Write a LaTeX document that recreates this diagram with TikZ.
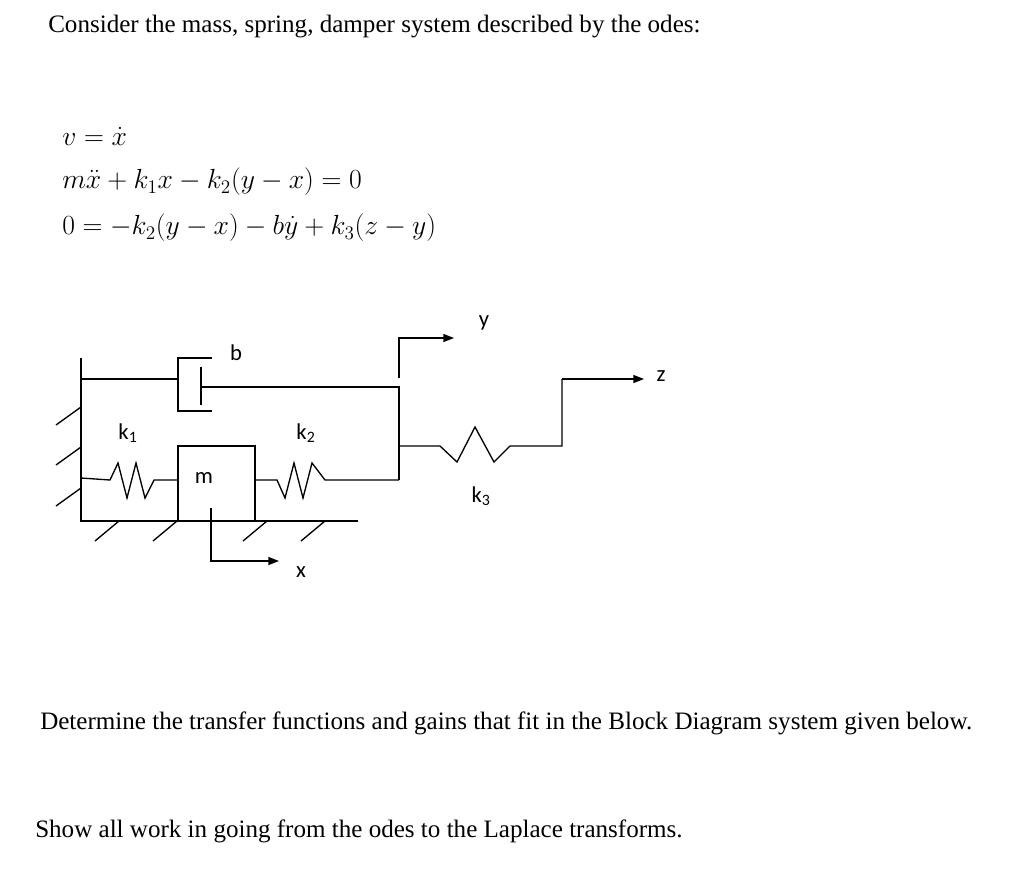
\documentclass[tikz,border=0pt]{standalone}
\usepackage{fontspec}
\setmainfont{Liberation Serif}
\newfontfamily\lbl{Carlito}
\usetikzlibrary{arrows.meta}
\begin{document}
\begin{tikzpicture}[x=0.75pt,y=-0.75pt,
  ln/.style={line width=1pt},
  arr/.style={line width=1pt,-{Triangle[length=8pt,width=6pt]}},
  txt/.style={anchor=west,inner sep=0pt,font=\fontsize{18.8}{22}\selectfont},
  eq/.style={anchor=west,inner sep=0pt,font=\fontsize{19.5}{23}\selectfont},
  lab/.style={inner sep=0pt,font=\lbl\fontsize{17}{20}\selectfont}]
\useasboundingbox (0,0) rectangle (1024,879);
\node[txt] (t1) at (48,27) {Consider the mass, spring, damper system described by the odes:};
\node[eq] (e1) at (62,136) {$v=\dot x$};
\node[eq] (e2) at (62,182) {$m\ddot x+k_1x-k_2(y-x)=0$};
\node[eq] (e3) at (62,228) {$0=-k_2(y-x)-b\dot y+k_3(z-y)$};
\node[txt] (t2) at (40,723) {Determine the transfer functions and gains that fit in the Block Diagram system given below.};
\node[txt] (t3) at (35,831) {Show all work in going from the odes to the Laplace transforms.};
% wall and ground
\draw[ln] (81,358) -- (81,521) -- (358,521);
\foreach \yy in {407,447,488} \draw[ln] (81,\yy) -- (56,\yy+18);
\foreach \xx in {119,177,267,325} \draw[ln] (\xx,521) -- (\xx-24,541);
% damper
\draw[ln] (81,379) -- (178,379);
\draw[ln] (212,358) -- (178,358) -- (178,411) -- (212,411);
\draw[ln] (201,367) -- (201,405);
\draw[ln] (201,387) -- (399,387) -- (399,480);
\draw[arr] (399,378) -- (399,338) -- (454,338);
% mass
\draw[ln] (178,521) -- (178,446) -- (255,446) -- (255,521);
% k1
\draw[ln] (81,478) -- (110,480) -- (118,463) -- (127,498) -- (136,463) -- (145,498) -- (154,480) -- (178,480);
% k2
\draw[ln] (255,480) -- (277,480) -- (285,498) -- (294,463) -- (303,498) -- (312,463) -- (325,480) -- (399,480);
% k3
\draw[ln] (399,446) -- (440,446) -- (457,462) -- (475,427) -- (494,462) -- (510,446) -- (562,446) -- (562,379);
\draw[arr] (562,379) -- (644,379);
% x arrow
\draw[arr] (211,508) -- (211,561) -- (279,561);
% labels
\node[lab] (ly) at (484,323) {y};
\node[lab] (lz) at (661,376) {z};
\node[lab] (lb) at (236,353) {b};
\node[lab] (lm) at (204,478) {m};
\node[lab] (lx) at (301,572) {x};
\node[lab] (k1) at (128,433) {k\textsubscript{1}};
\node[lab] (k2) at (306,433) {k\textsubscript{2}};
\node[lab] (k3) at (481,496) {k\textsubscript{3}};
\end{tikzpicture}
\end{document}
